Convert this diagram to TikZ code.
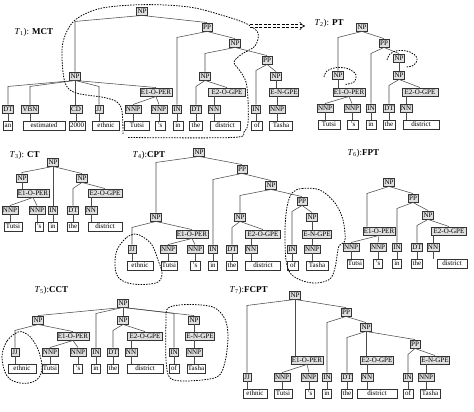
\documentclass[tikz,border=0pt]{standalone}
\usepackage{fontspec}
\setmainfont{Liberation Serif}
\usetikzlibrary{arrows.meta}

\tikzset{
  cat/.style={draw=black!80, fill=gray!25, font=\fontsize{7}{7}\selectfont,
    inner xsep=1pt, inner ysep=0.5pt, minimum height=8.5pt},
  wrd/.style={draw=black!80, fill=white, font=\fontsize{7}{7}\selectfont,
    inner xsep=1pt, inner ysep=0.5pt, minimum height=8.5pt},
  edge/.style={draw=black!70, line width=0.55pt},
  lasso/.style={dash pattern=on 1.5pt off 1.2pt, line width=0.8pt},
  ttl/.style={anchor=west, font=\fontsize{9}{9}\selectfont},
}

% POS tag with its word below
\newcommand{\lf}[7]{%
  \node[cat] (#1) at (#2,#3) {#4};
  \node[wrd, minimum width=#7pt] (#1-w) at (#5,#3+16.5) {#6};
  \draw[edge] (#1.south) -- (#1.south |- #1-w.north);
}

\begin{document}
\begin{tikzpicture}[x=1pt, y=-1pt]
\useasboundingbox (0,0) rectangle (474,412);

% titles
\node[ttl] (t1) at (11,32) {\textit{T}\textsubscript{1}): \textbf{MCT}};
\node[ttl] (t2) at (311,23) {\textit{T}\textsubscript{2}): \textbf{PT}};
\node[ttl] (t3) at (6,155) {\textit{T}\textsubscript{3}): \textbf{CT}};
\node[ttl] (t4) at (129,155) {\textit{T}\textsubscript{4}):\textbf{CPT}};
\node[ttl] (t6) at (344,153) {\textit{T}\textsubscript{6}):\textbf{FPT}};
\node[ttl] (t5) at (31,290) {\textit{T}\textsubscript{5}):\textbf{CCT}};
\node[ttl] (t7) at (226,290) {\textit{T}\textsubscript{7}):\textbf{FCPT}};

% T1 MCT
\node[cat] (a-np) at (142,11) {NP};
\node[cat] (a-pp) at (207,27) {PP};
\node[cat] (a-np2) at (235,43) {NP};
\node[cat] (a-pp2) at (267,60) {PP};
\node[cat] (a-npl) at (75,76) {NP};
\node[cat] (a-npd) at (205,76) {NP};
\node[cat] (a-npt) at (276,76) {NP};
\node[cat] (a-e1) at (156,92) {E1-O-PER};
\node[cat, minimum width=37pt] (a-e2) at (227,92) {E2-O-GPE};
\node[cat] (a-en) at (284,92) {E-N-GPE};
\lf{a-dt}{8}{109}{DT}{8}{an}{9}
\lf{a-vbn}{30}{109}{VBN}{44}{estimated}{42}
\lf{a-cd}{76}{109}{CD}{77}{2000}{16}
\lf{a-jj}{99}{109}{JJ}{106}{ethnic}{27}
\lf{a-nnp}{133}{109}{NNP}{137}{Tutsi}{25}
\lf{a-nnp2}{159}{109}{NNP}{160}{'s}{10}
\lf{a-in}{177}{109}{IN}{178}{in}{10}
\lf{a-dt2}{196}{109}{DT}{196}{the}{13}
\lf{a-nn}{214}{109}{NN}{225}{district}{30}
\lf{a-in2}{256}{109}{IN}{257}{of}{11}
\lf{a-nnp3}{277}{109}{NNP}{281}{Tasha}{23}

% T2 PT
\node[cat] (b-np) at (362,27) {NP};
\node[cat] (b-pp) at (384,43) {PP};
\node[cat] (b-np2) at (399,58) {NP};
\node[cat] (b-np3) at (399,75) {NP};
\node[cat] (b-npl) at (338,75) {NP};
\node[cat] (b-e1) at (349,92) {E1-O-PER};
\node[cat, minimum width=36pt] (b-e2) at (420,92) {E2-O-GPE};
\lf{b-nnp}{325}{108}{NNP}{329}{Tutsi}{22}
\lf{b-nnp2}{352}{108}{NNP}{353}{'s}{11}
\lf{b-in}{371}{108}{IN}{371}{in}{10}
\lf{b-dt}{389}{108}{DT}{389}{the}{12}
\lf{b-nn}{406}{108}{NN}{421}{district}{36}

% T3 CT
\node[cat] (c-np) at (53,162) {NP};
\node[cat] (c-npl) at (22,178) {NP};
\node[cat] (c-npr) at (82,178) {NP};
\node[cat] (c-e1) at (33,193) {E1-O-PER};
\node[cat, minimum width=34pt] (c-e2) at (105,193) {E2-O-GPE};
\lf{c-nnp}{10}{210}{NNP}{13}{Tutsi}{18}
\lf{c-nnp2}{37}{210}{NNP}{39}{'s}{8}
\lf{c-in}{53}{210}{IN}{53}{in}{9}
\lf{c-dt}{73}{210}{DT}{73}{the}{11}
\lf{c-nn}{91}{210}{NN}{105}{district}{34}

% T4 CPT
\node[cat] (d-np) at (199,152) {NP};
\node[cat] (d-pp) at (242,169) {PP};
\node[cat] (d-np2) at (271,185) {NP};
\node[cat] (d-ppr) at (302,201) {PP};
\node[cat] (d-npl) at (156,217) {NP};
\node[cat] (d-npm) at (240,217) {NP};
\node[cat] (d-npr) at (312,217) {NP};
\node[cat] (d-e1) at (192,234) {E1-O-PER};
\node[cat, minimum width=35pt] (d-e2) at (263,234) {E2-O-GPE};
\node[cat] (d-en) at (317,234) {E-N-GPE};
\lf{d-jj}{132}{249}{JJ}{140}{ethnic}{26}
\lf{d-nnp}{168}{249}{NNP}{169}{Tutsi}{16}
\lf{d-nnp2}{195}{249}{NNP}{195}{'s}{10}
\lf{d-in}{213}{249}{IN}{213}{in}{9}
\lf{d-dt}{232}{249}{DT}{232}{the}{11}
\lf{d-nn}{251}{249}{NN}{263}{district}{35}
\lf{d-in2}{292}{249}{IN}{293}{of}{11}
\lf{d-nnp3}{312}{249}{NNP}{317}{Tasha}{22}

% T6 FPT
\node[cat] (e-np) at (389,182) {NP};
\node[cat] (e-pp) at (413,198) {PP};
\node[cat] (e-np2) at (428,215) {NP};
\node[cat] (e-e1) at (379,231) {E1-O-PER};
\node[cat, minimum width=35pt] (e-e2) at (449,231) {E2-O-GPE};
\lf{e-nnp}{351}{247}{NNP}{355}{Tutsi}{16}
\lf{e-nnp2}{378}{247}{NNP}{378}{'s}{9}
\lf{e-in}{397}{247}{IN}{397}{in}{9}
\lf{e-dt}{417}{247}{DT}{417}{the}{11}
\lf{e-nn}{433}{247}{NN}{452}{district}{30}

% T5 CCT
\node[cat] (f-np) at (123,303) {NP};
\node[cat] (f-npl) at (38,320) {NP};
\node[cat] (f-npm) at (123,320) {NP};
\node[cat] (f-npr) at (194,320) {NP};
\node[cat] (f-e1) at (73,336) {E1-O-PER};
\node[cat, minimum width=35pt] (f-e2) at (145,336) {E2-O-GPE};
\node[cat] (f-en) at (200,336) {E-N-GPE};
\lf{f-jj}{15}{352}{JJ}{22}{ethnic}{28}
\lf{f-nnp}{50}{352}{NNP}{50}{Tutsi}{16}
\lf{f-nnp2}{78}{352}{NNP}{78}{'s}{9}
\lf{f-in}{96}{352}{IN}{96}{in}{9}
\lf{f-dt}{113}{352}{DT}{113}{the}{11}
\lf{f-nn}{131}{352}{NN}{145}{district}{36}
\lf{f-in2}{174}{352}{IN}{174}{of}{10}
\lf{f-nnp3}{194}{352}{NNP}{196}{Tasha}{18}

% T7 FCPT
\node[cat] (g-np) at (295,295) {NP};
\node[cat] (g-pp) at (346,312) {PP};
\node[cat] (g-np2) at (366,327) {NP};
\node[cat] (g-ppr) at (415,344) {PP};
\node[cat] (g-e1) at (307,360) {E1-O-PER};
\node[cat, minimum width=33pt] (g-e2) at (377,360) {E2-O-GPE};
\node[cat] (g-en) at (435,360) {E-N-GPE};
\lf{g-jj}{247}{377}{JJ}{255}{ethnic}{24}
\lf{g-nnp}{282}{377}{NNP}{283}{Tutsi}{18}
\lf{g-nnp2}{309}{377}{NNP}{310}{'s}{9}
\lf{g-in}{327}{377}{IN}{327}{in}{9}
\lf{g-dt}{347}{377}{DT}{347}{the}{11}
\lf{g-nn}{367}{377}{NN}{377}{district}{40}
\lf{g-in2}{408}{377}{IN}{408}{of}{10}
\lf{g-nnp3}{426}{377}{NNP}{430}{Tasha}{20}

% straight branches
\foreach \p/\c in {a-np/a-pp, a-pp/a-np2, a-np2/a-pp2, a-pp2/a-npt, a-npl/a-e1,
    a-e1/a-nnp, a-e1/a-nnp2, a-npd/a-e2,
    b-np/b-pp, b-pp/b-np2, b-np3/b-e2, b-e1/b-nnp, b-e1/b-nnp2,
    c-np/c-npr, c-e1/c-nnp, c-e1/c-nnp2, c-npr/c-e2,
    d-np/d-pp, d-pp/d-np2, d-np2/d-ppr, d-npl/d-e1, d-e1/d-nnp, d-e1/d-nnp2,
    d-npm/d-e2, d-ppr/d-npr,
    e-np/e-pp, e-pp/e-np2, e-np2/e-e2, e-e1/e-nnp, e-e1/e-nnp2,
    f-np/f-npl, f-np/f-npr, f-npl/f-e1, f-e1/f-nnp, f-e1/f-nnp2, f-npm/f-e2,
    g-np/g-pp, g-pp/g-np2, g-np2/g-ppr, g-e1/g-nnp, g-e1/g-nnp2, g-ppr/g-en}
  \draw[edge] (\p.south) -- (\c.north);

% bent branches
\foreach \p/\c in {a-np/a-npl, a-pp/a-in, a-np2/a-npd, a-npl/a-dt, a-npl/a-vbn,
    a-npl/a-jj, a-npd/a-dt2, a-pp2/a-in2,
    b-np/b-npl, b-pp/b-in, b-np3/b-dt,
    c-np/c-npl, c-npr/c-dt,
    d-np/d-npl, d-pp/d-in, d-np2/d-npm, d-npl/d-jj, d-npm/d-dt, d-ppr/d-in2,
    e-pp/e-in, e-np2/e-dt,
    f-np/f-in, f-np/f-in2, f-npl/f-jj, f-npm/f-dt,
    g-np/g-jj, g-pp/g-in, g-np2/g-dt, g-ppr/g-in2}
  \draw[edge] (\p.south) -- ([yshift=-6pt]\p.south -| \c.north) -- (\c.north);
\draw[edge] (e-np.south) -- ([xshift=-12pt, yshift=-7pt]e-np.south -| e-e1.north)
  -- ([xshift=-12pt]e-e1.north);

% vertical under the parent
\foreach \p/\c in {a-npl/a-cd, a-npt/a-en, b-np2/b-np3, b-npl/b-e1,
    c-np/c-in, c-npl/c-e1, d-npr/d-en, f-np/f-npm, f-npr/f-en,
    g-np/g-e1, g-np2/g-e2}
  \draw[edge] (\p.south) -- (\p.south |- \c.north);

% vertical above the child
\foreach \p/\c in {a-e2/a-nn, a-en/a-nnp3, b-e2/b-nn, c-e2/c-nn, d-e2/d-nn,
    d-en/d-nnp3, e-e2/e-nn, f-e2/f-nn, f-en/f-nnp3, g-e2/g-nn, g-en/g-nnp3}
  \draw[edge] (\c.north |- \p.south) -- (\c.north);

% dashed regions
\draw[lasso] plot[smooth, tension=0.55] coordinates {(123,134) (122,111) (117,102)
  (104,97.5) (76,93) (66,85) (62.5,67) (63,42) (74,21) (98,9) (132,5) (165,5)
  (195,8) (228,17) (247,24) (258,33) (255,46) (242,54) (234,62) (240,71)
  (246,82) (248,100) (248,123) (244,132) (232,137.5) (127,137.5)};
\draw[lasso] plot[smooth, tension=0.6] coordinates {(324,77) (327,71) (337,67.5)
  (349,69) (356,75) (354,82) (345,84.5)};
\draw[lasso] plot[smooth, tension=0.6] coordinates {(387,60) (390,54) (398,50.5)
  (410,52) (417,58) (414,65) (406,67)};
\draw[lasso] plot[smooth cycle, tension=0.6] coordinates {(135,234) (126,238)
  (117,250) (115,265) (118,277) (128,283) (143,284.5) (158,282) (162,273)
  (158,260) (152,245) (143,237)};
\draw[lasso] plot[smooth cycle, tension=0.55] coordinates {(292,193) (302,188.5)
  (320,190) (335,203) (343,220) (345,240) (339,246) (337,256) (335,268)
  (330,279) (317,283) (303,281) (291,274) (286,260) (285,230) (287,207)};
\draw[lasso] plot[smooth cycle, tension=0.6] coordinates {(18,332) (7,341)
  (2,357) (7,376) (20,383) (35,381) (42,370) (39,352) (32,339) (25,333)};
\draw[lasso] plot[smooth cycle, tension=0.5] coordinates {(168,308) (187,304.5)
  (213,307) (225,319) (228,337) (225,362) (217,377) (187,381) (170,378)
  (166,360) (166,322)};

% from T1 to T2
\coordinate (arr-s) at (250,26);
\coordinate (arr-e) at (305,26);
\draw[double, double distance=2.2pt, dash pattern=on 3pt off 1.5pt, line width=0.6pt,
  -{Implies[length=4pt]}] (arr-s) -- (arr-e);

\end{tikzpicture}
\end{document}
